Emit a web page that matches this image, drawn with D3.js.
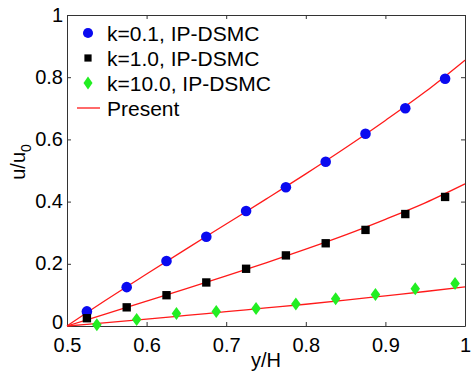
<!DOCTYPE html>
<html><head><meta charset="utf-8">
<script src="https://cdn.jsdelivr.net/npm/d3@7"></script>
<style>body{margin:0;background:#fff}svg{display:block;font-family:"Liberation Sans",Arial,sans-serif}</style>
</head><body>
<svg id="c" width="474" height="372"></svg>
<script>
// data
const xTicks = [0.5, 0.6, 0.7, 0.8, 0.9, 1];
const yTicks = [0, 0.2, 0.4, 0.6, 0.8, 1];
const xK01 = [0.525, 0.575, 0.625, 0.675, 0.725, 0.775, 0.825, 0.875, 0.925, 0.975];
const yK01 = [0.047, 0.125, 0.209, 0.287, 0.370, 0.446, 0.528, 0.618, 0.700, 0.795];
const xK1 = [0.525, 0.575, 0.625, 0.675, 0.725, 0.775, 0.825, 0.875, 0.925, 0.975];
const yK1 = [0.025, 0.060, 0.099, 0.140, 0.184, 0.227, 0.266, 0.309, 0.360, 0.415];
const xK10 = [0.5375, 0.5875, 0.6375, 0.6875, 0.7375, 0.7875, 0.8375, 0.8875, 0.9375, 0.9875];
const yK10 = [0.004, 0.021, 0.040, 0.047, 0.056, 0.071, 0.088, 0.101, 0.120, 0.137];
const xLine = [0.5, 0.55, 0.6, 0.65, 0.7, 0.75, 0.8, 0.85, 0.9, 0.95, 1.0];
const lineK01 = [0, 0.085, 0.167, 0.248, 0.328, 0.408, 0.489, 0.573, 0.661, 0.753, 0.855];
const lineK1 = [0, 0.040, 0.080, 0.120, 0.161, 0.203, 0.247, 0.293, 0.343, 0.396, 0.457];
const lineK10 = [0, 0.011, 0.022, 0.034, 0.046, 0.058, 0.070, 0.083, 0.097, 0.111, 0.126];
const legendLabels = ["k=0.1, IP-DSMC", "k=1.0, IP-DSMC", "k=10.0, IP-DSMC", "Present"];

const svg = d3.select("#c");
const m = {l: 67, t: 15, r: 9, b: 46};
const W = 474 - m.l - m.r, H = 372 - m.t - m.b;
const x = d3.scaleLinear().domain([0.5, 1]).range([m.l, m.l + W]);
const y = d3.scaleLinear().domain([0, 1]).range([m.t + H, m.t]);
const axCol = "#333";

// axes (ticks inward on all sides)
const fmt = d => d === 0 ? "0" : d === 1 ? "1" : d3.format(".1f")(d);
const gB = svg.append("g").attr("transform", `translate(0,${m.t + H})`)
  .call(d3.axisBottom(x).tickValues(xTicks).tickFormat(fmt).tickSizeInner(-4).tickSizeOuter(0).tickPadding(12));
const gL = svg.append("g").attr("transform", `translate(${m.l},0)`)
  .call(d3.axisLeft(y).tickValues(yTicks).tickFormat(fmt).tickSizeInner(-4).tickSizeOuter(0).tickPadding(4));
const gT = svg.append("g").attr("transform", `translate(0,${m.t})`)
  .call(d3.axisTop(x).tickValues(xTicks).tickFormat("").tickSizeInner(-4).tickSizeOuter(0));
const gR = svg.append("g").attr("transform", `translate(${m.l + W},0)`)
  .call(d3.axisRight(y).tickValues(yTicks).tickFormat("").tickSizeInner(-4).tickSizeOuter(0));
[gB, gL, gT, gR].forEach(g => {
  g.selectAll("path").attr("stroke", axCol);
  g.selectAll("line").attr("stroke", axCol);
  g.selectAll("text").attr("fill", "#000").style("font-size", "20px").style("font-family", '"Liberation Sans",Arial,sans-serif');
});
gL.selectAll("text").attr("dy", d => d === 0 ? "0.12em" : "0.3em");

// lines
const line = d3.line().x(d => x(d[0])).y(d => y(d[1])).curve(d3.curveMonotoneX);
[lineK01, lineK1, lineK10].forEach(vals => {
  svg.append("path").datum(xLine.map((v, i) => [v, vals[i]]))
    .attr("d", line).attr("fill", "none").attr("stroke", "#ff1a1a").attr("stroke-width", 1.3);
});

// markers
const sym = {
  circle: d3.symbol().type(d3.symbolCircle).size(88),
  square: d3.symbol().type(d3.symbolSquare).size(70),
};
function diamondPath(w, h) { return `M0,${-h/2}L${w/2},0L0,${h/2}L${-w/2},0Z`; }

svg.append("g").selectAll("path").data(xK01.map((v, i) => [v, yK01[i]])).join("path")
  .attr("transform", d => `translate(${x(d[0])},${y(d[1])})`).attr("d", sym.circle()).attr("fill", "#0a0af0");
svg.append("g").selectAll("path").data(xK1.map((v, i) => [v, yK1[i]])).join("path")
  .attr("transform", d => `translate(${x(d[0])},${y(d[1])})`).attr("d", sym.square()).attr("fill", "#000");
svg.append("g").selectAll("path").data(xK10.map((v, i) => [v, yK10[i]])).join("path")
  .attr("transform", d => `translate(${x(d[0])},${y(d[1])})`).attr("d", diamondPath(9.5, 13)).attr("fill", "#22ee22");

// legend
const lg = svg.append("g");
const ly0 = 33, ldy = 25, lmx = 88, ltx = 107;
lg.append("path").attr("transform", `translate(${lmx},${ly0})`).attr("d", d3.symbol().type(d3.symbolCircle).size(80)()).attr("fill", "#0a0af0");
lg.append("path").attr("transform", `translate(${lmx},${ly0 + ldy})`).attr("d", d3.symbol().type(d3.symbolSquare).size(52)()).attr("fill", "#000");
lg.append("path").attr("transform", `translate(${lmx},${ly0 + 2 * ldy})`).attr("d", diamondPath(9, 13)).attr("fill", "#22ee22");
lg.append("line").attr("x1", lmx - 11).attr("x2", lmx + 12).attr("y1", ly0 + 3 * ldy).attr("y2", ly0 + 3 * ldy).attr("stroke", "#ff1a1a").attr("stroke-width", 1.3);
legendLabels.forEach((t, i) => {
  lg.append("text").attr("x", ltx).attr("y", ly0 + i * ldy).attr("dy", "0.36em")
    .style("font-size", "21px").text(t);
});

// axis labels
svg.append("text").attr("x", m.l + W / 2).attr("y", 367).attr("text-anchor", "middle").style("font-size", "20px").text("y/H");
const yl = svg.append("text").attr("transform", "translate(25,162) rotate(-90)").attr("text-anchor", "middle").style("font-size", "20px");
yl.append("tspan").text("u/u");
yl.append("tspan").attr("dy", 6).style("font-size", "14px").text("0");
</script>
</body></html>
